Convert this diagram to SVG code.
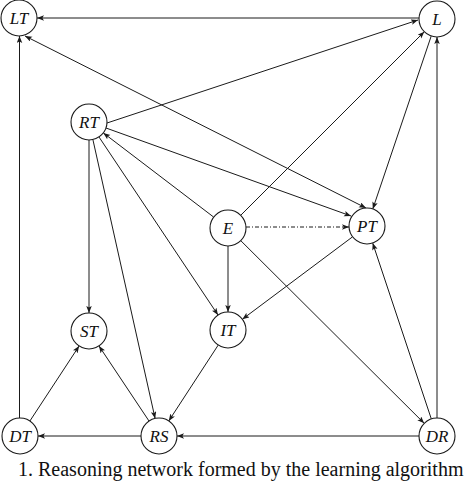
<svg xmlns="http://www.w3.org/2000/svg" width="474" height="482" viewBox="0 0 474 482">
<style>
.bg{fill:#ffffff}
.n circle{fill:#ffffff;stroke:#1a1a1a;stroke-width:1.1}
.n text{font-family:"Liberation Serif","Times New Roman",serif;font-style:italic;font-size:17px;fill:#111;text-anchor:middle}
.e line{stroke:#1a1a1a;stroke-width:1;fill:none}
.a{marker-end:url(#arr)}
.b{marker-start:url(#arr)}
.dd{stroke-dasharray:4 2 1 2}
.cap{font-family:"Liberation Serif","Times New Roman",serif;font-size:20px;fill:#111}
</style>
<defs>
<marker id="arr" markerUnits="userSpaceOnUse" markerWidth="8" markerHeight="6" refX="7" refY="2.75" orient="auto-start-reverse">
<path d="M0,0 L7,2.75 L0,5.5 L1.6,2.75 z" fill="#1a1a1a"/>
</marker>
</defs>
<rect class="bg" x="0" y="0" width="474" height="482"/>
<g id="connectors" class="e">
<line class="a" x1="419" y1="18" x2="37" y2="18"/>
<line class="a" x1="19.5" y1="418" x2="19.5" y2="36"/>
<line class="a b" x1="366" y1="208" x2="25" y2="36"/>
<line class="a" x1="107" y1="123" x2="418" y2="20"/>
<line class="a" x1="240.7" y1="215.3" x2="424.3" y2="31.7"/>
<line class="a" x1="431.2" y1="36.1" x2="372.8" y2="208.9"/>
<line class="a" x1="437" y1="418" x2="437" y2="37"/>
<line class="a" x1="213.7" y1="217.1" x2="103.3" y2="132.9"/>
<line class="a" x1="106" y1="128" x2="351" y2="216"/>
<line class="a" x1="89" y1="140" x2="89" y2="313"/>
<line class="a" x1="92.9" y1="139.6" x2="155.1" y2="418.4"/>
<line class="a" x1="99" y1="137" x2="218" y2="315"/>
<line class="a dd" x1="246" y1="227" x2="349" y2="227"/>
<line class="a" x1="228" y1="246" x2="228" y2="312"/>
<line class="a" x1="240.8" y1="240.7" x2="424.2" y2="423.3"/>
<line class="a" x1="352.6" y1="236.8" x2="242.4" y2="319.2"/>
<line class="a" x1="431.3" y1="418.9" x2="372.7" y2="243.1"/>
<line class="a" x1="218.2" y1="345.1" x2="168.8" y2="420.9"/>
<line class="a" x1="149" y1="421" x2="99" y2="346"/>
<line class="a" x1="29.9" y1="421" x2="79.1" y2="346"/>
<line class="a" x1="141" y1="436" x2="38" y2="436"/>
<line class="a" x1="419" y1="436" x2="177" y2="436"/>
</g>
<g id="LT" class="n"><circle cx="19" cy="18" r="18"/><text x="19" y="24">LT</text></g>
<g id="L" class="n"><circle cx="437" cy="19" r="18"/><text x="437" y="25">L</text></g>
<g id="RT" class="n"><circle cx="89" cy="122" r="18"/><text x="89" y="128">RT</text></g>
<g id="E" class="n"><circle cx="228" cy="228" r="18"/><text x="228" y="234">E</text></g>
<g id="PT" class="n"><circle cx="367" cy="226" r="18"/><text x="367" y="232">PT</text></g>
<g id="ST" class="n"><circle cx="89" cy="331" r="18"/><text x="89" y="337">ST</text></g>
<g id="IT" class="n"><circle cx="228" cy="330" r="18"/><text x="228" y="336">IT</text></g>
<g id="DT" class="n"><circle cx="20" cy="436" r="18"/><text x="20" y="442">DT</text></g>
<g id="RS" class="n"><circle cx="159" cy="436" r="18"/><text x="159" y="442">RS</text></g>
<g id="DR" class="n"><circle cx="437" cy="436" r="18"/><text x="437" y="442">DR</text></g>
<text class="cap" x="18" y="476">1. Reasoning network formed by the learning algorithm</text>
</svg>
